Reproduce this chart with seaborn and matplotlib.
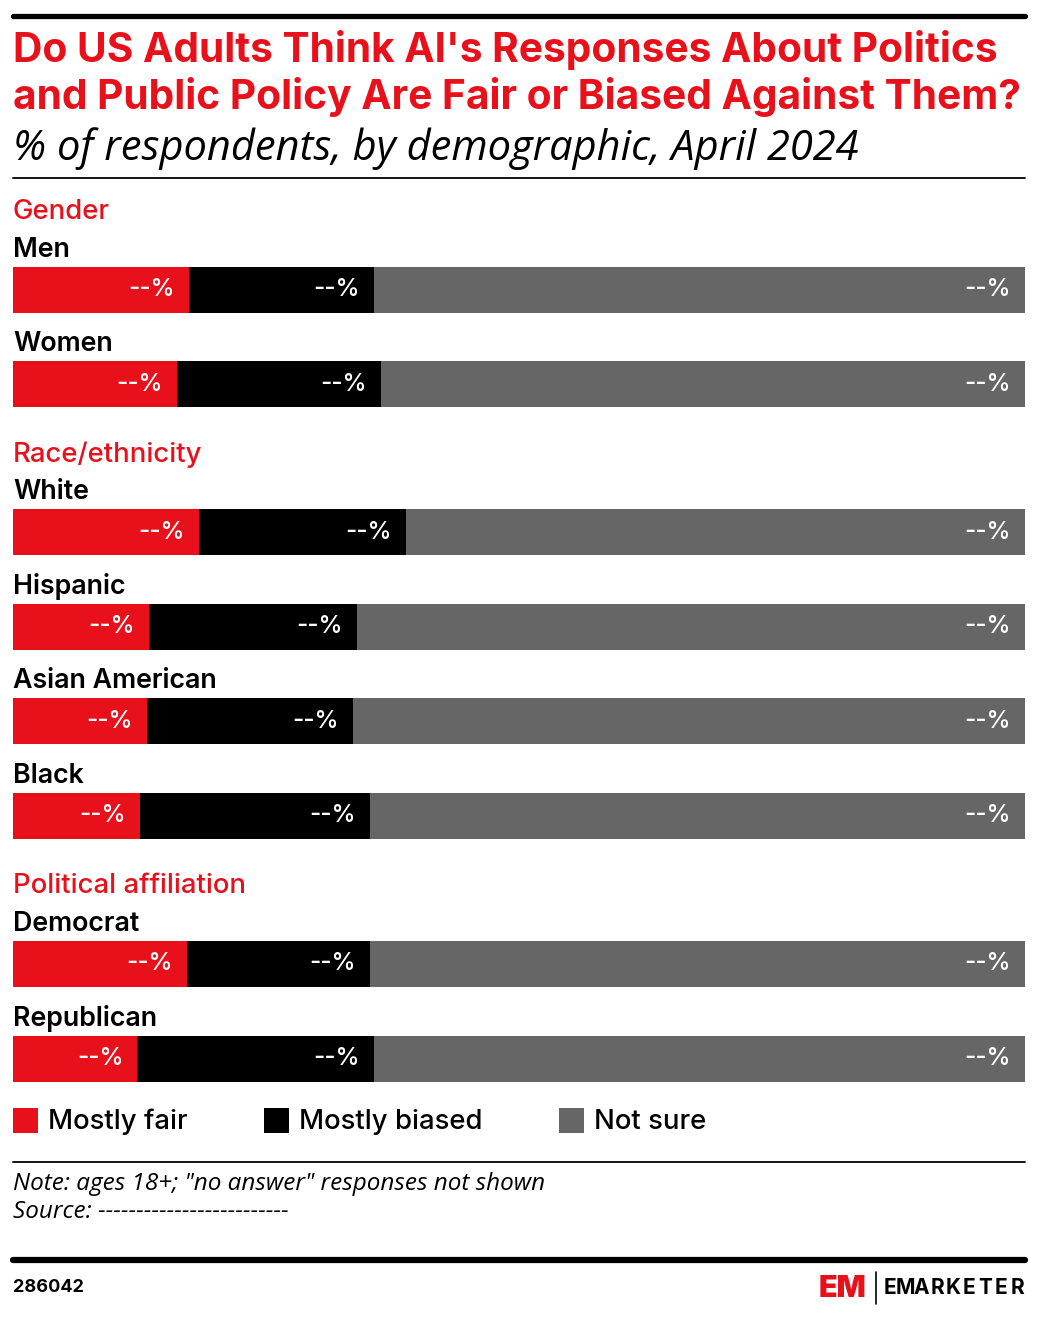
import seaborn as sns
import matplotlib.pyplot as plt
import pandas as pd
import numpy as np
from matplotlib.lines import Line2D
from matplotlib.patches import Rectangle

# data (% of respondents)
rows = ["Men", "Women", "White", "Hispanic", "Asian American", "Black", "Democrat", "Republican"]
groups = ["Gender", "Gender", "Race/ethnicity", "Race/ethnicity", "Race/ethnicity",
          "Race/ethnicity", "Political affiliation", "Political affiliation"]
mostly_fair = [17.4, 16.2, 18.4, 13.4, 13.2, 12.5, 17.2, 12.3]
mostly_biased = [18.3, 20.2, 20.4, 20.6, 20.4, 22.8, 18.1, 23.4]
not_sure = [100 - f - b for f, b in zip(mostly_fair, mostly_biased)]
series = ["Mostly fair", "Mostly biased", "Not sure"]

RED = "#e8111b"
BLACK = "#000000"
GRAY = "#666666"
W, H = 1038, 1318

sns.set_theme(style="white")
plt.rcParams["font.family"] = ["Inter", "DejaVu Sans"]
ITAL = ["Open Sans", "DejaVu Sans"]

# row positions: 1 unit between rows inside a group, bigger gap between groups
group_gap = 148 / 94.5
ypos = []
y = 0.0
for i, g in enumerate(groups):
    if i > 0:
        y += 1.0 if g == groups[i - 1] else group_gap
    ypos.append(y)

df = pd.DataFrame({"row": rows, "group": groups, "y": ypos,
                   "fair": mostly_fair, "biased": mostly_biased, "notsure": not_sure})
df["fb"] = df["fair"] + df["biased"]
df["total"] = df["fb"] + df["notsure"]

fig = plt.figure(figsize=(W / 100, H / 100), dpi=100)

def fx(px):
    return px / W

def fy(px):
    return 1 - px / H

# axes: x pixels 13..1025, y pixels 240..1090 ; one unit = 94.5 px, row 0 centred at 290
unit = 94.5
top_px, bot_px = 240, 1090
ax = fig.add_axes([fx(13), fy(bot_px), fx(1025) - fx(13), (bot_px - top_px) / H])

bar_h = 46 / unit
for col, c in [("total", GRAY), ("fb", BLACK), ("fair", RED)]:
    sns.barplot(data=df, x=col, y="y", orient="y", native_scale=True, color=c,
                saturation=1, width=bar_h, linewidth=0, errorbar=None, ax=ax)

ax.set_xlim(0, 100)
ax.set_ylim((bot_px - 290) / unit, (top_px - 290) / unit)
ax.axis("off")

# value labels
off = 1.4
for _, r in df.iterrows():
    for end in (r["fair"], r["fb"], r["total"]):
        ax.text(end - off, r["y"], "--%", ha="right", va="center", color="white",
                fontsize=17.5, fontweight="medium")
    # row label above the bar
    ax.text(0, r["y"] - 40 / unit, r["row"], ha="left", va="center", color="black",
            fontsize=19.3, fontweight="semibold", clip_on=False)

# group headings
seen = []
for _, r in df.iterrows():
    if r["group"] not in seen:
        seen.append(r["group"])
        ax.text(0, r["y"] - 78 / unit, r["group"], ha="left", va="center", color=RED,
                fontsize=19.8, fontweight="medium", clip_on=False)

# header
fig.add_artist(Line2D([fx(13), fx(1025)], [fy(15.5), fy(15.5)], color="black", lw=3.8))
fig.text(fx(13), fy(50), "Do US Adults Think AI's Responses About Politics", color=RED,
         fontsize=29.3, fontweight="bold", ha="left", va="center")
fig.text(fx(13), fy(97), "and Public Policy Are Fair or Biased Against Them?", color=RED,
         fontsize=29.3, fontweight="bold", ha="left", va="center")
fig.text(fx(13), fy(149), "% of respondents, by demographic, April 2024", color="black",
         fontsize=30, fontstyle="italic", family=ITAL, ha="left", va="center")
fig.add_artist(Line2D([fx(13), fx(1025)], [fy(178), fy(178)], color="black", lw=1.3))

# legend
for x0, name, c in [(13, series[0], RED), (264, series[1], BLACK), (559, series[2], GRAY)]:
    fig.add_artist(Rectangle((fx(x0), fy(1133)), fx(25), 25 / H, color=c, lw=0))
    fig.text(fx(x0 + 35), fy(1122), name, color="black", fontsize=19.8, fontweight="medium",
             ha="left", va="center")

# notes
fig.add_artist(Line2D([fx(13), fx(1025)], [fy(1162), fy(1162)], color="black", lw=1.3))
fig.text(fx(13), fy(1184), "Note: ages 18+; \"no answer\" responses not shown", color="black",
         fontsize=17.5, fontstyle="italic", family=ITAL, ha="left", va="center")
fig.text(fx(13), fy(1212), "Source: -------------------------", color="black",
         fontsize=17.5, fontstyle="italic", family=ITAL, ha="left", va="center")

# footer
fig.add_artist(Line2D([fx(13), fx(1025)], [fy(1260), fy(1260)], color="black", lw=4.5))
fig.text(fx(13), fy(1288), "286042", color="black", fontsize=13, fontweight="bold",
         ha="left", va="center")
brand = "EMARKETER"
pitch = 15.9
for k, ch in enumerate(brand):
    fig.text(fx(1025 - pitch * (len(brand) - 1 - k) - pitch / 2), fy(1288), ch, color="black",
             fontsize=15, fontweight="bold", ha="center", va="center")
fig.add_artist(Line2D([fx(876), fx(876)], [fy(1272), fy(1304)], color="black", lw=1.2))
fig.text(fx(866), fy(1289), "EM", color=RED, fontsize=22, fontweight="black",
         ha="right", va="center")

fig.savefig("out.png", dpi=100)
